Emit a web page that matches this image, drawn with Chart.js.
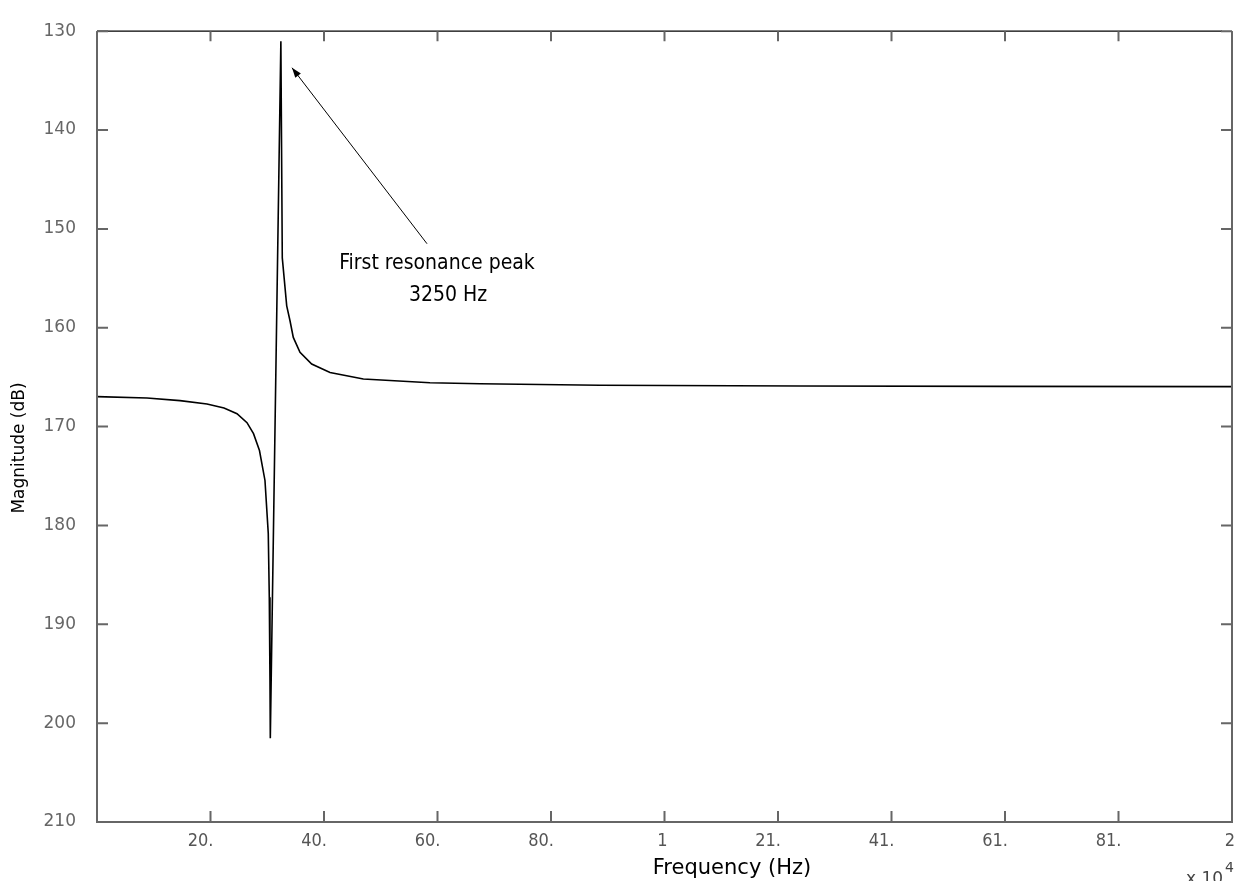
<!DOCTYPE html>
<html>
<head>
<meta charset="utf-8">
<script src="https://cdn.jsdelivr.net/npm/chart.js@4/dist/chart.umd.min.js"></script>
<style>
html,body{margin:0;padding:0;background:#fff;}
#wrap{width:1250px;height:881px;}
</style>
</head>
<body>
<div id="wrap"><canvas id="c" width="1250" height="881"></canvas></div>
<script>
// ---- data ----
const freqHz = [0, 881, 1463, 1938, 2238, 2467, 2643, 2758, 2863, 2960, 3018, 3036, 3048, 3054,
  3240, 3265, 3343, 3401, 3459, 3577, 3783, 4106, 4693, 5868, 6749, 8863, 12387, 15911, 20000];
const magnitudeDb = [166.97, 167.10, 167.37, 167.71, 168.11, 168.69, 169.60, 170.71, 172.42, 175.45, 180.81, 187.27, 195.66, 201.52,
  131.01, 152.93, 157.78, 159.29, 160.98, 162.49, 163.67, 164.52, 165.18, 165.56, 165.66, 165.81, 165.89, 165.93, 165.96];
const xTickValues = [0, 2000, 4000, 6000, 8000, 10000, 12000, 14000, 16000, 18000, 20000];
const xTickLabels = ["", "20.", "40.", "60.", "80.", "1", "21.", "41.", "61.", "81.", "2"];
const yTickValues = [130, 140, 150, 160, 170, 180, 190, 200, 210];
const xTitle = "Frequency (Hz)";
const yTitle = "Magnitude (dB)";
const xExponent = ["x 10", "4"];
const annotLines = ["First resonance peak", "3250 Hz"];
const arrowHead = {x: 3436, y: 133.7};
const arrowTail = {x: 5815, y: 151.5};
const annotTextAt = [{x: 5991, y: 153.5}, {x: 6185, y: 156.7}];

const points = freqHz.map((f, i) => ({x: f, y: magnitudeDb[i]}));

const framePlugin = {
  id: 'frame',
  afterDraw(chart) {
    const ctx = chart.ctx, a = chart.chartArea;
    const xs = chart.scales.x, ys = chart.scales.y;
    ctx.save();
    ctx.lineCap = 'butt';
    ctx.strokeStyle = '#666';
    ctx.lineWidth = 2;
    ctx.beginPath();
    ctx.moveTo(a.left, a.top); ctx.lineTo(a.left, a.bottom);
    ctx.lineTo(a.right, a.bottom); ctx.lineTo(a.right, a.top);
    ctx.stroke();
    ctx.strokeStyle = '#000';
    ctx.lineWidth = 1.2;
    ctx.beginPath();
    ctx.moveTo(a.left, a.top); ctx.lineTo(a.right - 10, a.top);
    ctx.stroke();
    ctx.strokeStyle = '#666';
    ctx.lineWidth = 2;
    ctx.beginPath();
    yTickValues.forEach(v => {
      const p = ys.getPixelForValue(v);
      ctx.moveTo(a.left, p); ctx.lineTo(a.left + 11, p);
      ctx.moveTo(a.right, p); ctx.lineTo(a.right - 11, p);
    });
    xTickValues.forEach(v => {
      const p = xs.getPixelForValue(v);
      ctx.moveTo(p, a.bottom); ctx.lineTo(p, a.bottom - 11);
      ctx.moveTo(p, a.top); ctx.lineTo(p, a.top + 10);
    });
    ctx.stroke();
    ctx.fillStyle = '#000';
    ctx.font = '21px "DejaVu Sans"';
    ctx.textAlign = 'center';
    ctx.textBaseline = 'middle';
    ctx.fillText(xTitle, 732, 869);
    ctx.save();
    ctx.translate(20, 448);
    ctx.rotate(-Math.PI / 2);
    ctx.font = '17px "DejaVu Sans"';
    ctx.fillText(yTitle, 0, 0);
    ctx.restore();
    ctx.fillStyle = '#444';
    ctx.font = '17px "DejaVu Sans"';
    ctx.textAlign = 'left';
    ctx.textBaseline = 'top';
    ctx.fillText(xExponent[0], 1186, 871);
    ctx.font = '14px "DejaVu Sans"';
    ctx.fillText(xExponent[1], 1225, 861);
    const hx = xs.getPixelForValue(arrowHead.x), hy = ys.getPixelForValue(arrowHead.y);
    const tx = xs.getPixelForValue(arrowTail.x), ty = ys.getPixelForValue(arrowTail.y);
    ctx.strokeStyle = '#000';
    ctx.fillStyle = '#000';
    ctx.lineWidth = 1;
    ctx.beginPath();
    ctx.moveTo(tx, ty); ctx.lineTo(hx, hy);
    ctx.stroke();
    const ang = Math.atan2(hy - ty, hx - tx);
    const L = 10, W = 3.5;
    ctx.beginPath();
    ctx.moveTo(hx, hy);
    ctx.lineTo(hx - L * Math.cos(ang) + W * Math.sin(ang), hy - L * Math.sin(ang) - W * Math.cos(ang));
    ctx.lineTo(hx - L * Math.cos(ang) - W * Math.sin(ang), hy - L * Math.sin(ang) + W * Math.cos(ang));
    ctx.closePath();
    ctx.fill();
    ctx.font = '21px "DejaVu Sans Condensed", "DejaVu Sans"';
    ctx.textAlign = 'center';
    ctx.textBaseline = 'middle';
    annotLines.forEach((t, i) => {
      ctx.fillText(t, xs.getPixelForValue(annotTextAt[i].x), ys.getPixelForValue(annotTextAt[i].y));
    });
    ctx.restore();
  }
};

new Chart(document.getElementById('c'), {
  type: 'line',
  data: {
    datasets: [{
      data: points,
      borderColor: '#000',
      borderWidth: 1.6,
      pointRadius: 0,
      tension: 0,
      fill: false
    }]
  },
  options: {
    responsive: false,
    animation: false,
    layout: {padding: {top: 30, right: 18, left: 0, bottom: 0}},
    plugins: {legend: {display: false}, tooltip: {enabled: false}},
    scales: {
      x: {
        type: 'linear',
        min: 0, max: 20000,
        afterBuildTicks: s => { s.ticks = xTickValues.map(v => ({value: v})); },
        afterFit: s => { s.height = 59; },
        grid: {display: false, drawTicks: false},
        border: {display: false},
        ticks: {
          align: 'end',
          labelOffset: 3,
          padding: 9,
          maxRotation: 0,
          autoSkip: false,
          color: '#555',
          font: {family: '"DejaVu Sans Condensed", "DejaVu Sans"', size: 18},
          callback: (v) => { const i = xTickValues.indexOf(v); return i >= 0 ? xTickLabels[i] : ''; }
        }
      },
      y: {
        type: 'linear',
        reverse: true,
        min: 130, max: 210,
        afterBuildTicks: s => { s.ticks = yTickValues.map(v => ({value: v})); },
        afterFit: s => { s.width = 97; },
        grid: {display: false, drawTicks: false},
        border: {display: false},
        ticks: {
          padding: 21,
          color: '#666',
          font: {family: '"DejaVu Sans"', size: 17},
          callback: v => String(v)
        }
      }
    }
  },
  plugins: [framePlugin]
});
</script>
</body>
</html>
